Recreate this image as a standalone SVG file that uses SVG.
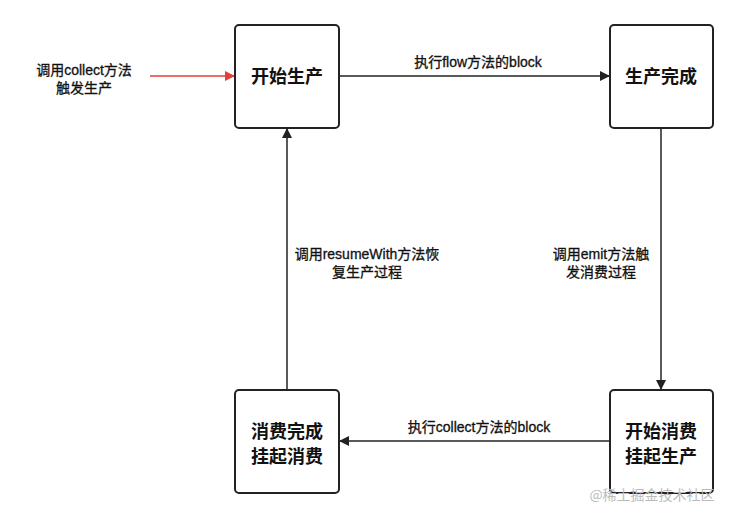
<svg xmlns="http://www.w3.org/2000/svg" width="738" height="519" viewBox="0 0 738 519">
<style>
.box{fill:#fff;stroke:#222;stroke-width:2}
.bt{font-family:"Liberation Sans","Noto Sans CJK SC",sans-serif;font-size:18px;font-weight:bold;fill:#111;text-anchor:middle}
.lt{font-family:"Liberation Sans","Noto Sans CJK SC",sans-serif;font-size:14px;fill:#111;text-anchor:middle;stroke:#111;stroke-width:0.3}
.c{stroke:#222;stroke-width:1.5;fill:none}
</style>
<defs>
<marker id="a" markerWidth="10" markerHeight="10" refX="9" refY="5" orient="auto" markerUnits="userSpaceOnUse"><path d="M0,0 L10,5 L0,10 z" fill="#222"/></marker>
<marker id="r" markerWidth="10" markerHeight="10" refX="9" refY="5" orient="auto" markerUnits="userSpaceOnUse"><path d="M0,0 L10,5 L0,10 z" fill="#e0403a"/></marker>
</defs>
<rect width="738" height="519" fill="#fff"/>
<g id="connectors">
<line x1="150" y1="76" x2="234" y2="76" stroke="#e0403a" stroke-width="1.5" marker-end="url(#r)"/>
<line class="c" x1="340" y1="76" x2="609" y2="76" marker-end="url(#a)"/>
<line class="c" x1="661" y1="129" x2="661" y2="389" marker-end="url(#a)"/>
<line class="c" x1="609" y1="441" x2="340" y2="441" marker-end="url(#a)"/>
<line class="c" x1="287" y1="389" x2="287" y2="129" marker-end="url(#a)"/>
<text class="lt" x="84" y="75">调用collect方法</text>
<text class="lt" x="84" y="93">触发生产</text>
<text class="lt" x="478" y="67">执行flow方法的block</text>
<text class="lt" x="601" y="259">调用emit方法触</text>
<text class="lt" x="601" y="277">发消费过程</text>
<text class="lt" x="479" y="432">执行collect方法的block</text>
<text class="lt" x="367" y="259">调用resumeWith方法恢</text>
<text class="lt" x="367" y="277">复生产过程</text>
</g>
<g id="n1"><rect class="box" x="235" y="25" width="104" height="103" rx="4"/><text class="bt" x="287" y="83">开始生产</text></g>
<g id="n2"><rect class="box" x="610" y="25" width="103" height="103" rx="4"/><text class="bt" x="661" y="83">生产完成</text></g>
<g id="n3"><rect class="box" x="235" y="390" width="104" height="103" rx="4"/><text class="bt" x="287" y="438">消费完成</text><text class="bt" x="287" y="463">挂起消费</text></g>
<g id="n4"><rect class="box" x="610" y="390" width="103" height="103" rx="4"/><text class="bt" x="661" y="438">开始消费</text><text class="bt" x="661" y="463">挂起生产</text></g>
<text x="652" y="500" font-family="'Noto Sans CJK SC',sans-serif" font-size="14" fill="#bbb" text-anchor="middle">@稀土掘金技术社区</text>
</svg>
